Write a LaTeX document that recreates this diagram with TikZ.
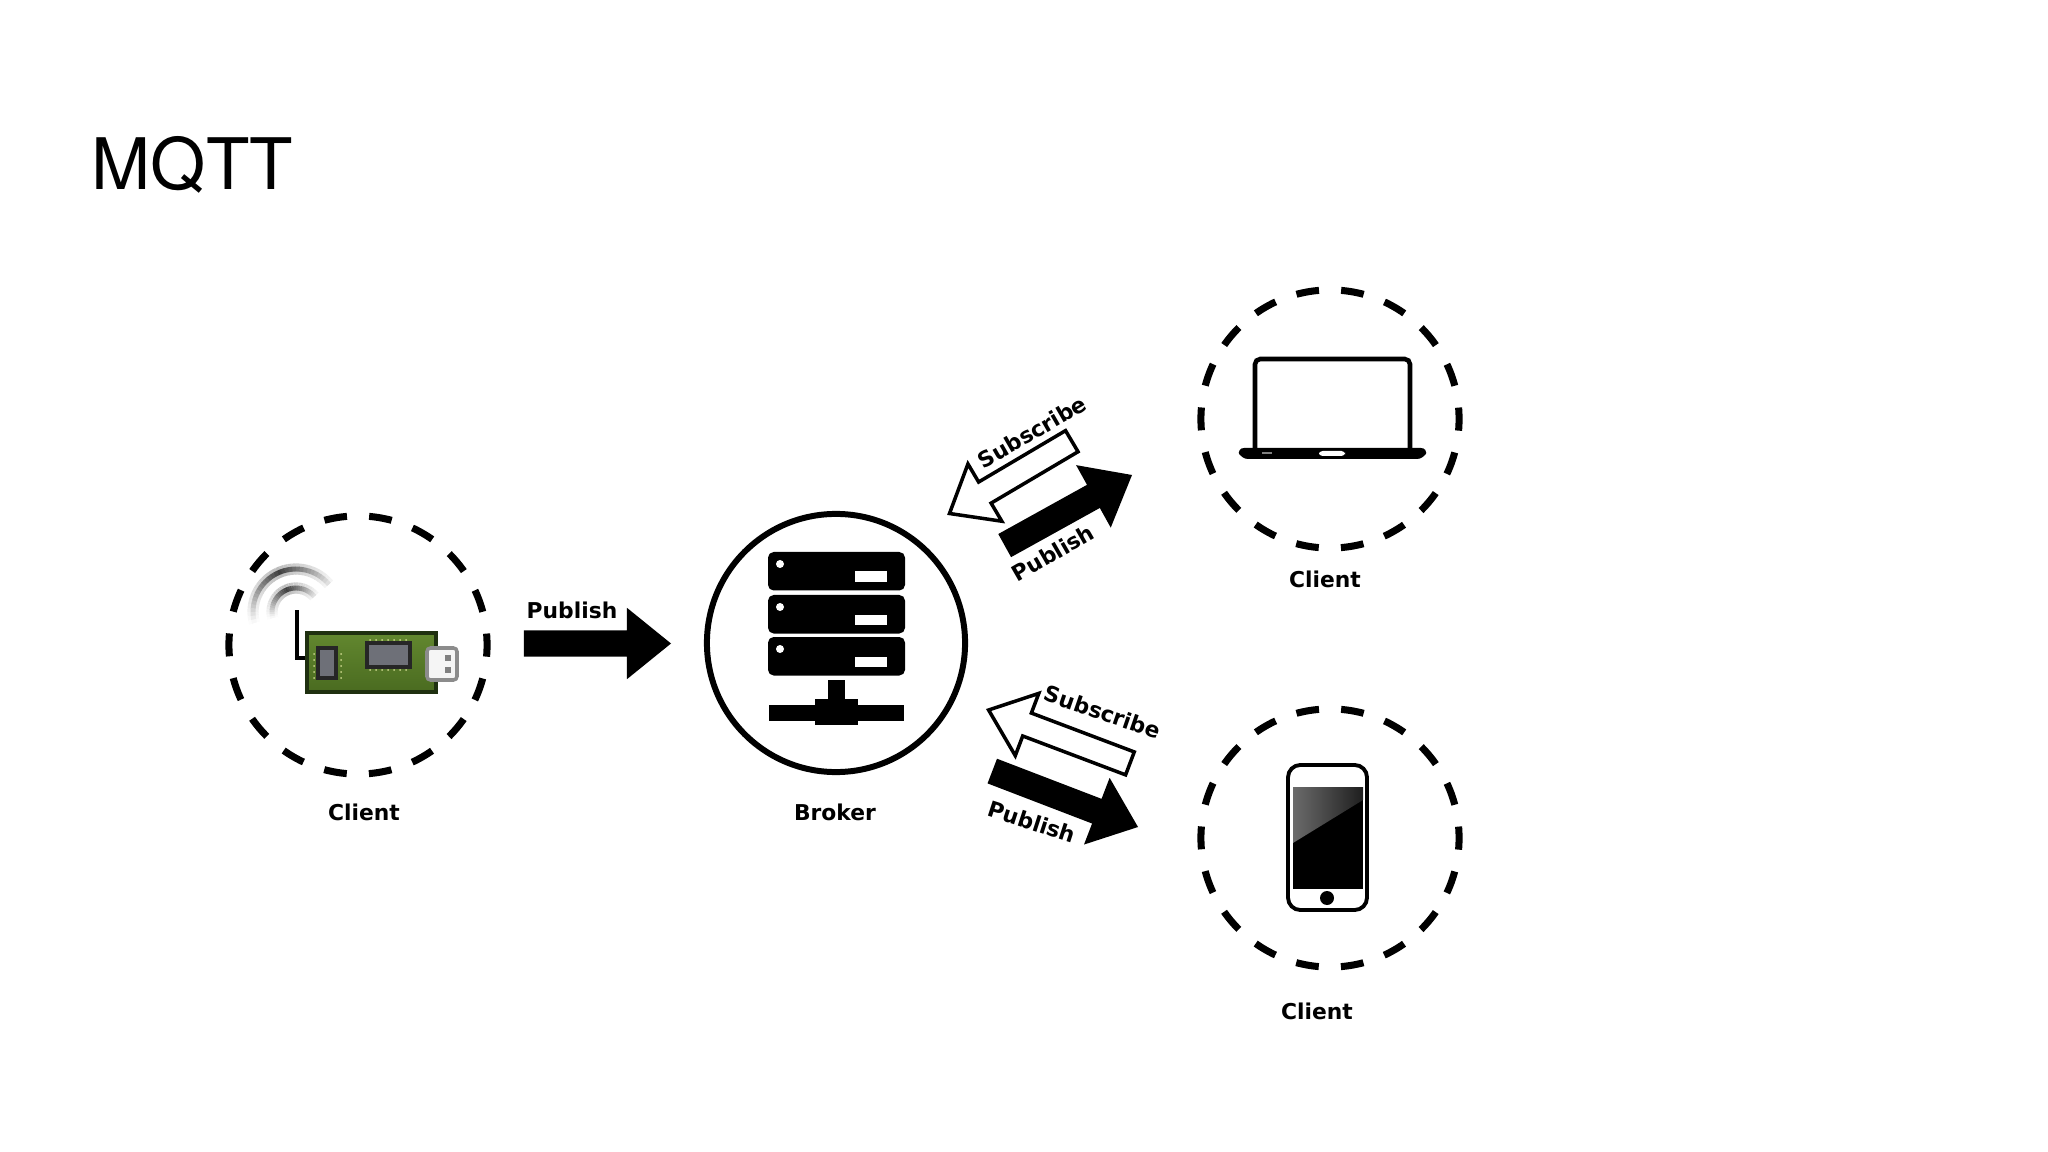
\documentclass[tikz,border=0pt]{standalone}
\usepackage{fontspec}
\newfontfamily\titlefont{TeX Gyre Heros}
\newfontfamily\labelfont{DejaVu Sans}
\usetikzlibrary{shapes.arrows}
\definecolor{boardtop}{HTML}{62872F}
\definecolor{boardbot}{HTML}{4A6B20}
\definecolor{boardrim}{HTML}{1F3010}
\definecolor{pinlight}{HTML}{C9D58A}
\definecolor{chipgrey}{HTML}{6E7078}

\begin{document}
\begin{tikzpicture}[x=0.01cm,y=-0.01cm]
        \tikzset{client/.style = {shape=circle,draw,inner sep=0,outer sep=0,minimum size=2.58cm,line width=2pt,dash pattern=on 6.5pt off 6.31pt,dash phase=3.25pt}}
        \tikzset{broker/.style = {shape=circle,draw,inner sep=0,outer sep=0,minimum size=2.58cm,line width=1.7pt}}
        \tikzset{tag/.style = {font=\labelfont\bfseries\fontsize{6.2}{8}\selectfont,inner sep=0}}
        \tikzset{blockarrow/.style = {shape=single arrow,anchor=tip,inner sep=0,inner ysep=0.125cm,outer sep=0,minimum height=#1,single arrow head extend=0.225cm,single arrow tip angle=78}}
        \tikzset{puball/.style = {blockarrow=#1,fill=black}}
        \tikzset{subarrow/.style = {blockarrow=#1,draw,fill=white,line width=1pt,inner ysep=0.105cm,single arrow head extend=0.21cm}}
        \tikzset{rack/.style = {fill=black,rounded corners=1.6pt}}
        \tikzset{chip/.style = {draw=black!85,fill=chipgrey,line width=1pt}}
        \useasboundingbox (0,0) rectangle (2048,1152);

        % title
        \node[anchor=west,inner sep=0,font=\titlefont\fontsize{20.2}{24}\selectfont] (title) at (91,165) {MQTT};

        % circles
        \node[client] (device) at (358,645) {};
        \node[broker] (server) at (836,643) {};
        \node[client] (laptop) at (1330,419) {};
        \node[client] (phone) at (1330,838) {};

        % labels
        \node[tag] (devicetag) at (364,812) {Client};
        \node[tag] (servertag) at (835,812) {Broker};
        \node[tag] (laptoptag) at (1325,579) {Client};
        \node[tag] (phonetag) at (1317,1011) {Client};

        % arrows
        \node[puball=1.47cm] (pubin) at (671,643.5) {};
        \node[tag] (pubintag) at (572,610) {Publish};
        \node[subarrow=1.42cm, rotate=210.6] (subtop) at (949.5,513.5) {};
        \node[puball=1.455cm, rotate=29] (pubtop) at (1132,475) {};
        \node[tag, rotate=30] (subtoptag) at (1032,432) {Subscribe};
        \node[tag, rotate=30] (pubtoptag) at (1053,553) {Publish};
        \node[subarrow=1.51cm, rotate=159.3] (subbot) at (988.6,710) {};
        \node[puball=1.56cm, rotate=-21] (pubbot) at (1138,827) {};
        \node[tag, rotate=-19] (subbottag) at (1103,712) {Subscribe};
        \node[tag, rotate=-18] (pubbottag) at (1032,822) {Publish};

        % usb stick
        \foreach \a in {40,45,...,195} {
            \pgfmathsetmacro{\fade}{max(0,75-abs(\a-110)*0.9)}
            \pgfmathsetmacro{\halo}{\fade*0.35}
            \draw[line width=3.2pt,black!\halo] (296,612) ++(\a:43 and -43) arc[start angle=-\a,delta angle=-5.5,radius=43];
            \draw[line width=3.2pt,black!\halo] (296,612) ++(\a:24 and -24) arc[start angle=-\a,delta angle=-5.5,radius=24];
        }
        \foreach \a in {40,45,...,195} {
            \pgfmathsetmacro{\fade}{max(0,75-abs(\a-110)*0.9)}
            \draw[line width=1.4pt,black!\fade] (296,612) ++(\a:43 and -43) arc[start angle=-\a,delta angle=-5.5,radius=43];
            \draw[line width=1.4pt,black!\fade] (296,612) ++(\a:24 and -24) arc[start angle=-\a,delta angle=-5.5,radius=24];
        }
        \draw[line width=1.1pt] (297,610) -- (297,658) -- (310,658);
        \shade[top color=boardtop,bottom color=boardbot,draw=boardrim,line width=1pt] (307,633) rectangle (436,692);
        \draw[draw=black!45,fill=black!4,line width=1pt,rounded corners=1pt] (427,648) rectangle (457,680);
        \fill[black!50] (445,655) rectangle (451,661);
        \fill[black!50] (445,667) rectangle (451,673);
        \draw[chip] (318,648) rectangle (336,678);
        \draw[chip] (367,643) rectangle (410,667);
        \foreach \y in {654,660,...,678} {
            \fill[pinlight] (314,\y) circle (1);
            \fill[pinlight] (341,\y) circle (1);
        }
        \foreach \x in {370,376,...,406} {
            \fill[pinlight] (\x,640) circle (1);
            \fill[pinlight] (\x,670) circle (1);
        }

        % server
        \foreach \y in {552,595,637} {
            \fill[rack] (768,\y) rectangle (905,\y+38.5);
            \fill[white] (780,\y+12) circle (4);
            \fill[white] (855,\y+19.5) rectangle (887,\y+30);
        }
        \fill (828,680) rectangle (845,700);
        \fill (815,699) rectangle (858,725);
        \fill (769,705) rectangle (904,721);

        % laptop
        \draw[line width=1.3pt,rounded corners=1.5pt] (1255,448) -- (1255,359) -- (1410,359) -- (1410,448);
        \fill[rounded corners=2pt] (1237,448) -- (1428,448) -- (1424,459) -- (1241,459) -- cycle;
        \fill[white,rounded corners=1pt] (1319,451) rectangle (1345,456);
        \fill[black!50] (1262,452) rectangle (1272,454);

        % phone
        \draw[line width=1.1pt,rounded corners=3.5pt] (1288,765) rectangle (1367,910);
        \fill (1293,787) rectangle (1363,889);
        \shade[left color=black!58,right color=black!88] (1293,787) -- (1363,787) -- (1363,800) -- (1293,843) -- cycle;
        \fill (1327,898) circle (7);
    \end{tikzpicture}
\end{document}
